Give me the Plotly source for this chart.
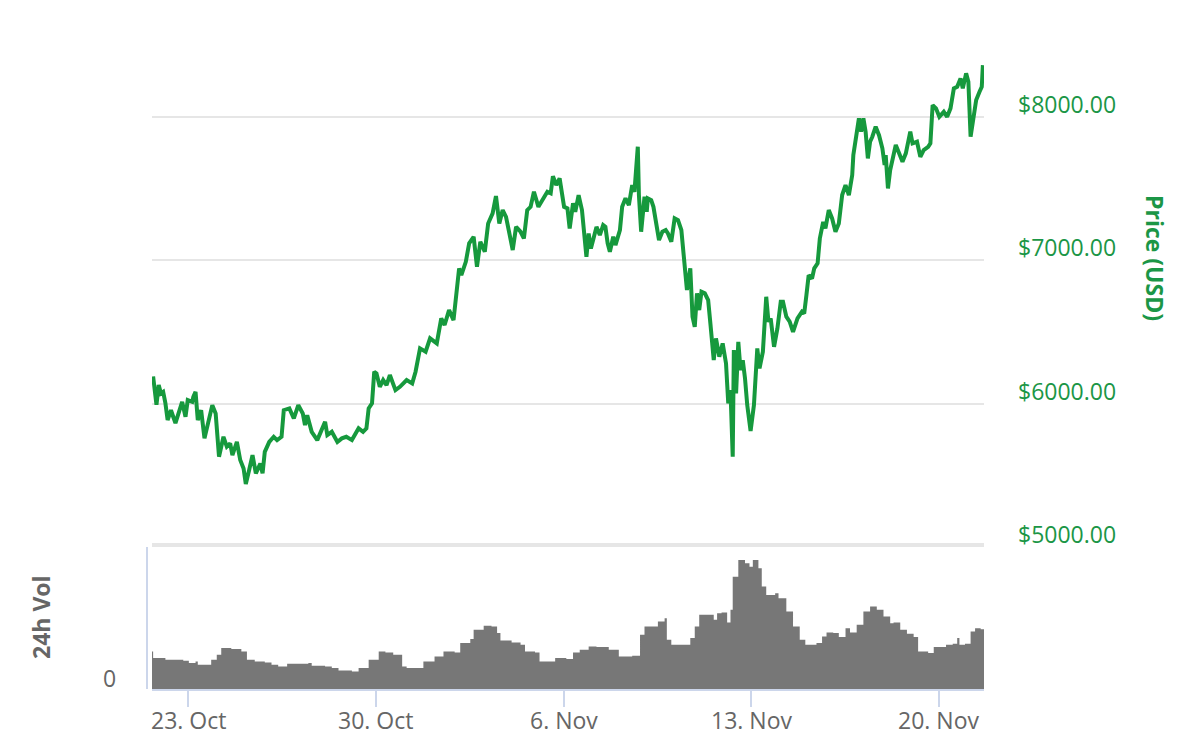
import pandas as pd
import plotly.graph_objects as go

# ---------------- data ----------------
START = "2017-10-21 15:30"

price_hours = [1, 4, 6, 8, 10, 12, 14, 17, 19, 21, 27, 30, 32, 36, 37, 39, 41, 44, 47, 50,
               54, 57, 60, 64, 67, 70, 72, 76, 79, 82, 84, 87, 90, 93, 97, 99, 101, 105, 109, 112,
               116, 118, 123, 127, 131, 135, 137, 139, 143, 148, 150, 155, 157, 161, 166, 170, 174, 179, 185, 189,
               192, 194, 197, 199, 201, 204, 207, 210, 213, 218, 222, 228, 233, 236, 240, 245, 249, 255, 259, 262,
               266, 270, 275, 277, 281, 284, 288, 291, 294, 298, 301, 305, 308, 311, 314, 317, 320, 323, 326, 330,
               333, 336, 339, 342, 346, 350, 354, 357, 359, 362, 365, 369, 372, 374, 377, 379, 382, 385, 387, 389,
               391, 393, 395, 398, 401, 404, 406, 408, 410, 413, 415, 419, 421, 424, 427, 430, 432, 435, 436, 438,
               441, 443, 444, 447, 449, 452, 454, 457, 460, 462, 465, 468, 471, 474, 477, 479, 482, 484, 486, 488,
               490, 492, 495, 498, 500, 503, 505, 508, 511, 514, 516, 518, 520, 521, 523, 525, 527, 529, 531, 533,
               536, 539, 542, 544, 547, 550, 552, 554, 557, 560, 563, 565, 568, 571, 574, 578, 582, 584, 586, 588,
               591, 593, 596, 598, 601, 603, 606, 609, 612, 615, 618, 621, 624, 627, 628, 630, 633, 635, 637, 639,
               641, 643, 645, 648, 651, 654, 656, 657, 659, 661, 663, 666, 669, 672, 675, 679, 681, 685, 688, 691,
               695, 697, 699, 702, 705, 709, 712, 715, 718, 721, 724, 726, 729, 731, 733, 736, 738, 741, 743, 744]

price_usd = [6190, 5993, 6130, 6072, 6083, 6004, 5886, 5955, 5909, 5865, 6013, 5909, 6025, 6013, 6048, 6083, 5886, 5955, 5758, 5851,
             5990, 5932, 5630, 5769, 5700, 5723, 5641, 5733, 5607, 5548, 5439, 5537, 5641, 5514, 5583, 5514, 5664, 5733, 5769, 5746,
             5769, 5955, 5967, 5897, 5990, 5932, 5851, 5920, 5804, 5746, 5781, 5874, 5781, 5804, 5733, 5758, 5769, 5746, 5828, 5804,
             5828, 5967, 6002, 6223, 6211, 6118, 6165, 6130, 6200, 6095, 6118, 6165, 6142, 6223, 6386, 6363, 6456, 6421, 6595, 6549,
             6653, 6583, 6944, 6897, 6990, 7119, 7165, 6956, 7130, 7060, 7258, 7328, 7449, 7258, 7351, 7304, 7188, 7072, 7234, 7200,
             7153, 7351, 7374, 7479, 7374, 7433, 7479, 7468, 7588, 7526, 7572, 7374, 7363, 7223, 7398, 7339, 7456, 7351, 7142, 7025,
             7188, 7084, 7142, 7234, 7177, 7246, 7234, 7119, 7060, 7165, 7107, 7212, 7374, 7433, 7386, 7526, 7479, 7793, 7456, 7200,
             7444, 7339, 7433, 7421, 7374, 7234, 7142, 7200, 7212, 7188, 7130, 7293, 7281, 7212, 6932, 6793, 6944, 6607, 6537, 6770,
             6653, 6781, 6770, 6723, 6560, 6304, 6456, 6328, 6421, 6281, 6002, 6095, 5630, 6374, 6072, 6432, 6234, 6304, 6177, 5990,
             5810, 5990, 6386, 6246, 6363, 6746, 6572, 6595, 6397, 6525, 6711, 6711, 6607, 6572, 6502, 6595, 6642, 6630, 6758, 6897,
             6874, 6944, 6979, 7153, 7269, 7223, 7351, 7293, 7200, 7258, 7456, 7526, 7456, 7595, 7735, 7851, 7991, 7898, 7991, 7898,
             7712, 7828, 7863, 7933, 7874, 7782, 7665, 7735, 7502, 7630, 7712, 7805, 7747, 7688, 7747, 7898, 7817, 7828, 7723, 7770,
             7793, 7817, 8084, 8061, 8002, 8037, 8002, 8061, 8200, 8212, 8270, 8200, 8305, 8247, 7863, 8014, 8119, 8177, 8212, 8363]

vol_hours = [0, 1, 12, 28, 33, 39, 41, 53, 58, 62, 71, 80, 85, 92, 101, 107, 113, 121, 140, 143,
             155, 161, 167, 179, 185, 194, 203, 209, 216, 224, 228, 238, 243, 253, 261, 271, 276, 285, 288, 297,
             304, 309, 312, 322, 330, 334, 343, 347, 358, 361, 371, 377, 383, 391, 398, 409, 418, 430, 435, 437,
             441, 450, 453, 459, 461, 465, 476, 482, 486, 490, 496, 503, 506, 510, 515, 518, 520, 525, 531, 535,
             538, 543, 546, 550, 558, 561, 568, 574, 580, 585, 595, 600, 604, 610, 615, 621, 625, 631, 637, 643,
             649, 655, 661, 664, 670, 676, 682, 686, 695, 700, 711, 717, 721, 723, 728, 733, 737, 742, 745]

vol_musd = [1880, 1550, 1465, 1415, 1300, 1380, 1215, 1465, 1715, 2050, 2000, 1880, 1465, 1380, 1330, 1215, 1130, 1265, 1300, 1165,
            1130, 1050, 930, 880, 1050, 1465, 1880, 1830, 1715, 1130, 1050, 1050, 1380, 1630, 1880, 1830, 2300, 2500, 2965, 3165,
            3130, 2800, 2430, 2330, 2215, 1880, 1830, 1380, 1380, 1550, 1500, 1830, 1965, 2130, 2100, 1965, 1630, 1665, 1665, 2715,
            3130, 3130, 3380, 3550, 2465, 2215, 2215, 2550, 3130, 3715, 3715, 3465, 3800, 3830, 3330, 3965, 5630, 6465, 6300, 6130,
            6465, 6050, 5130, 4715, 4800, 4550, 3880, 3130, 2465, 2215, 2300, 2630, 2830, 2800, 2600, 3050, 2830, 3215, 3880, 4130,
            3965, 3630, 3300, 3330, 2965, 2765, 2600, 1880, 1800, 2100, 2215, 2265, 2550, 2215, 2265, 2880, 3050, 3000, 2880]

x_tick_dates = ["2017-10-23", "2017-10-30", "2017-11-06", "2017-11-13", "2017-11-20"]
x_tick_labels = ["23. Oct", "30. Oct", "6. Nov", "13. Nov", "20. Nov"]
price_ticks = [5000, 6000, 7000, 8000]
price_tick_labels = ["$5000.00", "$6000.00", "$7000.00", "$8000.00"]

# ---------------- build ----------------
t0 = pd.Timestamp(START)
price_t = t0 + pd.to_timedelta(price_hours, unit="h")
vol_t = t0 + pd.to_timedelta(vol_hours, unit="h")
t_end = t0 + pd.to_timedelta(745, unit="h")

GREEN = "#16993d"
LABEL_GREEN = "#1b9646"
GRID = "#e6e6e6"
AXIS = "#ccd6eb"
FONT = "Open Sans"
TEXT_GRAY = "#666666"

W, H = 1196, 744
ML, MR, MT, MB = 152, 212, 60, 55
PW = W - ML - MR
PH = H - MT - MB
split = (H - MB - 547) / PH  # volume panel top (pixel 547)

fig = go.Figure()
fig.add_trace(go.Scatter(
    x=vol_t, y=vol_musd, xaxis="x", yaxis="y2", mode="lines",
    line=dict(width=0, shape="hv", color="#777777"),
    fill="tozeroy", fillcolor="#777777", hoverinfo="skip", showlegend=False))
fig.add_trace(go.Scatter(
    x=price_t, y=price_usd, xaxis="x", yaxis="y", mode="lines",
    line=dict(width=4, color=GREEN), showlegend=False))

px_per_usd = 143.3 / 1000
price_top = 5000 + (547 - MT) / px_per_usd

fig.update_layout(
    width=W, height=H,
    margin=dict(l=ML, r=MR, t=MT, b=MB, autoexpand=False),
    paper_bgcolor="white", plot_bgcolor="white",
    font=dict(family=FONT, size=23, color=TEXT_GRAY),
    xaxis=dict(
        type="date", range=[t0, t_end], anchor="y2", automargin=False,
        tickvals=x_tick_dates, showticklabels=False,
        ticks="outside", ticklen=16, tickwidth=2, tickcolor=AXIS,
        showline=True, linecolor=AXIS, linewidth=2,
        showgrid=False, zeroline=False,
    ),
    yaxis=dict(
        domain=[split, 1], range=[5000, price_top], side="right", anchor="x",
        tickvals=price_ticks, showticklabels=False, automargin=False,
        showgrid=True, gridcolor=GRID, gridwidth=2, zeroline=False,
    ),
    yaxis2=dict(
        domain=[0, split], range=[0, 142.3 * 50], anchor="x", automargin=False,
        showticklabels=False, showgrid=False, zeroline=False,
    ),
)

# separator at top of volume panel
fig.add_shape(type="line", xref="paper", yref="paper", x0=0, x1=1,
              y0=(H - MB - 545) / PH, y1=(H - MB - 545) / PH,
              line=dict(color=GRID, width=4))
# volume axis line
fig.add_shape(type="line", xref="paper", yref="paper",
              x0=(147 - ML) / PW, x1=(147 - ML) / PW,
              y0=0, y1=split, line=dict(color=AXIS, width=2))

# x tick labels
for d, lab in zip(x_tick_dates, x_tick_labels):
    fig.add_annotation(x=d, xref="x", y=0, yref="paper", text=lab, showarrow=False,
                       xanchor="center", yanchor="middle", yshift=-31,
                       font=dict(family=FONT, size=23, color=TEXT_GRAY))

# price tick labels (placed above their gridlines, as in the reference)
for v, lab in zip(price_ticks, price_tick_labels):
    fig.add_annotation(x=1 + (1016 - (W - MR)) / PW, xref="paper", y=v, yref="y",
                       text=lab, showarrow=False, xanchor="left", yanchor="middle",
                       yshift=13, font=dict(family=FONT, size=23, color=LABEL_GREEN))

fig.add_annotation(x=(1155 - ML) / PW, xref="paper", y=(H - MB - 258) / PH, yref="paper",
                   text="<b>Price (USD)</b>", textangle=90, showarrow=False,
                   xanchor="center", yanchor="middle",
                   font=dict(family=FONT, size=23, color=LABEL_GREEN))

fig.add_annotation(x=(118 - ML) / PW, xref="paper", y=0, yref="y2",
                   text="0", showarrow=False, xanchor="right", yanchor="middle",
                   yshift=11, font=dict(family=FONT, size=23, color=TEXT_GRAY))

fig.add_annotation(x=(41 - ML) / PW, xref="paper", y=(H - MB - 617) / PH, yref="paper",
                   text="<b>24h Vol</b>", textangle=-90, showarrow=False,
                   xanchor="center", yanchor="middle",
                   font=dict(family=FONT, size=23, color=TEXT_GRAY))

fig.write_html("out.html")
